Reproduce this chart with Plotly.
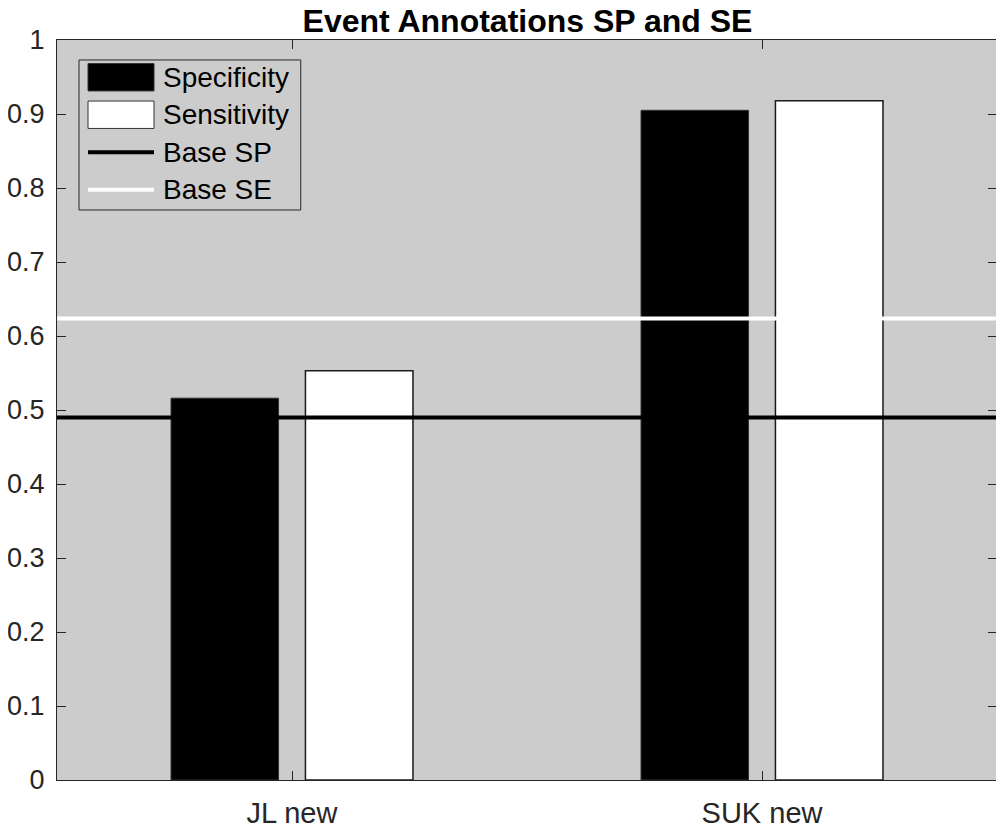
import plotly.graph_objects as go

# data
groups = ["JL new", "SUK new"]
specificity = [0.516, 0.905]
sensitivity = [0.553, 0.918]
base_sp = 0.490
base_se = 0.6235
y_ticks = [0, 0.1, 0.2, 0.3, 0.4, 0.5, 0.6, 0.7, 0.8, 0.9, 1]
y_tick_labels = ["0", "0.1", "0.2", "0.3", "0.4", "0.5", "0.6", "0.7", "0.8", "0.9", "1"]
legend_names = ["Specificity", "Sensitivity", "Base SP", "Base SE"]

FONT = "Liberation Sans, Arial, Helvetica, sans-serif"
AX = "#262626"
GRAY = "#cccccc"

fig = go.Figure()
fig.add_trace(go.Bar(x=groups, y=specificity, name=legend_names[0],
                     marker=dict(color="black", line=dict(color="#333333", width=1)),
                     showlegend=False))
fig.add_trace(go.Bar(x=groups, y=sensitivity, name=legend_names[1],
                     marker=dict(color="white", line=dict(color="#1a1a1a", width=1.5)),
                     showlegend=False))

# baselines across the whole axis
fig.add_hline(y=base_sp, line=dict(color="black", width=4), layer="above")
fig.add_hline(y=base_se, line=dict(color="white", width=4), layer="above")

# hand-drawn legend box (matlab style, wide swatches)
lx0, lx1, ly0, ly1 = 0.0234, 0.2593, 0.7703, 0.973
sx0, sx1, tx = 0.033, 0.1032, 0.1106
row_h = (ly1 - ly0) / 4
fig.add_shape(type="rect", xref="paper", yref="paper", x0=lx0, x1=lx1, y0=ly0, y1=ly1,
              fillcolor=GRAY, line=dict(color=AX, width=1), layer="above")
swatch_fill = ["black", "white"]
line_cols = ["black", "white"]
for i, name in enumerate(legend_names):
    yc = ly1 - (i + 0.5) * row_h + 0.002
    if i < 2:
        fig.add_shape(type="rect", xref="paper", yref="paper", x0=sx0, x1=sx1,
                      y0=yc - 0.0185, y1=yc + 0.0185, fillcolor=swatch_fill[i],
                      line=dict(color="#333333", width=1), layer="above")
    else:
        fig.add_shape(type="line", xref="paper", yref="paper", x0=sx0, x1=sx1,
                      y0=yc, y1=yc, line=dict(color=line_cols[i - 2], width=4), layer="above")
    fig.add_annotation(x=tx, y=yc, xref="paper", yref="paper", text=name, showarrow=False,
                       xanchor="left", yanchor="middle", font=dict(size=28, color="black", family=FONT))

# page body adds an 8px offset, margins compensate for it
fig.update_layout(
    width=1004, height=827,
    margin=dict(l=49, r=15, t=32, b=55),
    paper_bgcolor="white", plot_bgcolor=GRAY,
    barmode="group", bargap=0.428, bargroupgap=0.2,
    font=dict(family=FONT, size=27, color=AX),
    title=dict(text="<b>Event Annotations SP and SE</b>", x=519.5 / 1004, xanchor="center",
               yref="container", y=1 - 13 / 827, yanchor="middle",
               font=dict(size=32, color="black", family=FONT)),
    showlegend=False,
)
fig.update_xaxes(range=[-0.5, 1.5], showline=True, linecolor=AX, linewidth=1, mirror="ticks",
                 ticks="inside", ticklen=9, tickcolor=AX, showgrid=False, zeroline=False,
                 ticklabelstandoff=7, automargin=False, tickfont=dict(size=29))
fig.update_yaxes(range=[0, 1], tickvals=y_ticks, ticktext=y_tick_labels, showline=True,
                 linecolor=AX, linewidth=1, mirror="ticks", ticks="inside", ticklen=9,
                 tickcolor=AX, showgrid=False, zeroline=False, ticklabelstandoff=6,
                 automargin=False)

fig.write_html("out.html")
